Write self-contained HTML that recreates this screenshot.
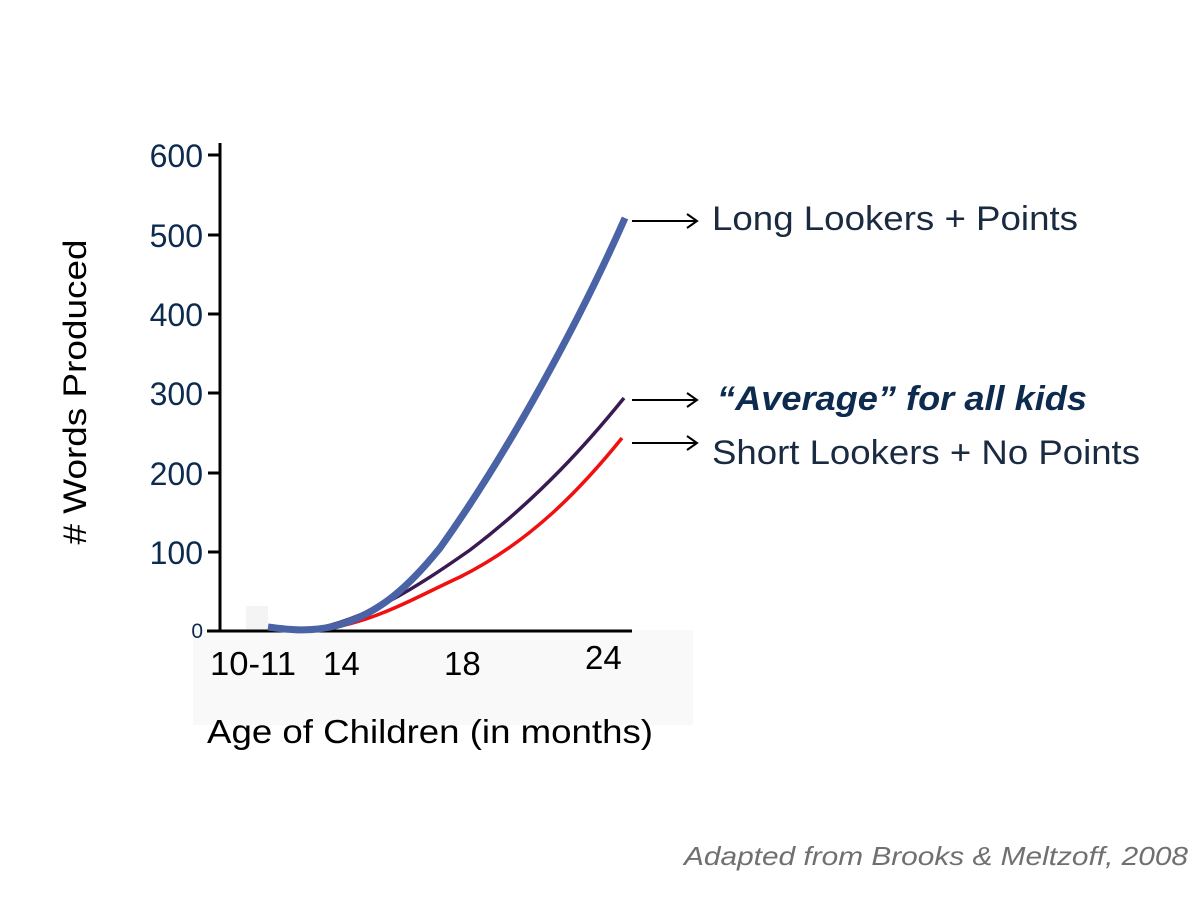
<!DOCTYPE html>
<html><head><style>body{margin:0;background:#fff}</style></head><body>
<svg width="1200" height="900" xmlns="http://www.w3.org/2000/svg" font-family="Liberation Sans, Arial, sans-serif">
<rect x="193" y="630" width="500" height="95" fill="#f9f9f9"/>
<rect x="246" y="606" width="22" height="24" fill="#f4f4f4"/>
<g stroke="#000" stroke-width="3" fill="none">
<line x1="220" y1="143" x2="220" y2="632"/>
<line x1="207" y1="631" x2="632" y2="631"/>
<line x1="208" y1="155" x2="220" y2="155"/>
<line x1="208" y1="235" x2="220" y2="235"/>
<line x1="208" y1="314" x2="220" y2="314"/>
<line x1="208" y1="393" x2="220" y2="393"/>
<line x1="208" y1="473" x2="220" y2="473"/>
<line x1="208" y1="552" x2="220" y2="552"/>
</g>
<g fill="#0d2a4f" font-size="32" text-anchor="end">
<text x="203" y="167">600</text><text x="203" y="247">500</text><text x="203" y="326">400</text>
<text x="203" y="405">300</text><text x="203" y="485">200</text><text x="203" y="564">100</text>
<text x="203" y="638" font-size="21">0</text>
</g>
<g font-size="33" fill="#000">
<text x="210" y="675" textLength="86" lengthAdjust="spacingAndGlyphs">10-11</text><text x="323" y="675">14</text><text x="444" y="675">18</text><text x="585" y="669">24</text>
<text x="207" y="743" textLength="446" lengthAdjust="spacingAndGlyphs">Age of Children (in months)</text>
<text transform="translate(86,392) rotate(-90)" text-anchor="middle" font-size="32" textLength="305" lengthAdjust="spacingAndGlyphs">#&#160;Words Produced</text>
</g>
<path d="M300,631 C360,625 420,585 470,550 C540,497 590,440 624,398" stroke="#3a1a52" stroke-width="3.5" fill="none"/>
<path d="M310,631 C370,625 410,600 460,577 C530,542 580,490 622,438" stroke="#f01010" stroke-width="3.5" fill="none"/>
<path d="M268,627 C290,630 310,632 335,626 C380,614 410,585 440,548 C510,450 580,320 625,218" stroke="#4a63a6" stroke-width="7" fill="none"/>
<g stroke="#000" stroke-width="2" fill="none">
<path d="M632,221 H697 M687,214 L697,221 L687,228"/>
<path d="M632,400 H697 M687,393 L697,400 L687,407"/>
<path d="M632,443 H697 M687,436 L697,443 L687,450"/>
</g>
<g font-size="34" fill="#1a2a40">
<text x="712" y="230" textLength="366" lengthAdjust="spacingAndGlyphs">Long Lookers + Points</text>
<text x="717" y="410" textLength="370" lengthAdjust="spacingAndGlyphs" font-weight="bold" font-style="italic" fill="#0d2a4f">“Average” for all kids</text>
<text x="712" y="464" textLength="428" lengthAdjust="spacingAndGlyphs">Short Lookers + No Points</text>
</g>
<text x="1188" y="865" text-anchor="end" font-size="26" font-style="italic" fill="#707070" textLength="504" lengthAdjust="spacingAndGlyphs">Adapted from Brooks &amp; Meltzoff, 2008</text>
</svg>
</body></html>
